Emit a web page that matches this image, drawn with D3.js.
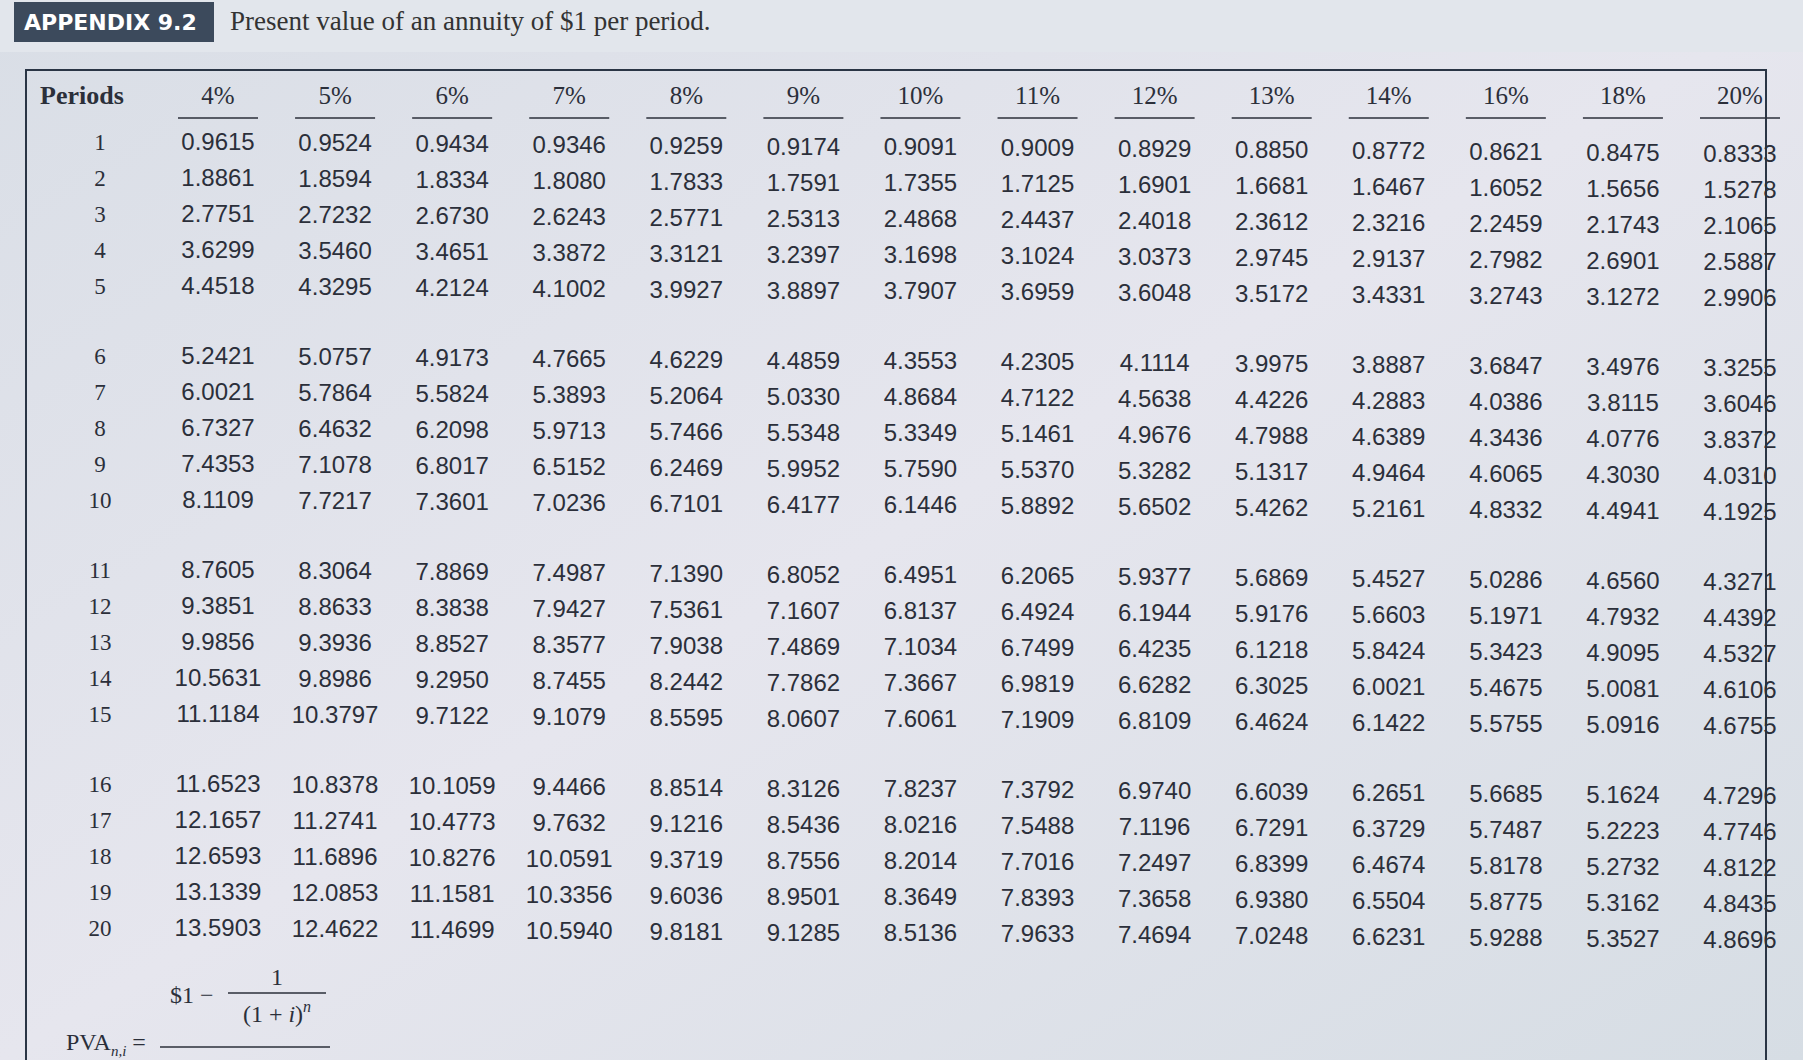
<!DOCTYPE html>
<html><head><meta charset="utf-8">
<script src="https://cdn.jsdelivr.net/npm/d3@7/dist/d3.min.js"></script>
<style>body{margin:0;background:#dfe4ea;}</style></head>
<body><svg id="c" width="1803" height="1060"></svg>
<script>
const rates=["4%","5%","6%","7%","8%","9%","10%","11%","12%","13%","14%","16%","18%","20%"];
const periods=d3.range(1,21);
const r4=[0.9615,1.8861,2.7751,3.6299,4.4518,5.2421,6.0021,6.7327,7.4353,8.1109,8.7605,9.3851,9.9856,10.5631,11.1184,11.6523,12.1657,12.6593,13.1339,13.5903];
const r5=[0.9524,1.8594,2.7232,3.5460,4.3295,5.0757,5.7864,6.4632,7.1078,7.7217,8.3064,8.8633,9.3936,9.8986,10.3797,10.8378,11.2741,11.6896,12.0853,12.4622];
const r6=[0.9434,1.8334,2.6730,3.4651,4.2124,4.9173,5.5824,6.2098,6.8017,7.3601,7.8869,8.3838,8.8527,9.2950,9.7122,10.1059,10.4773,10.8276,11.1581,11.4699];
const r7=[0.9346,1.8080,2.6243,3.3872,4.1002,4.7665,5.3893,5.9713,6.5152,7.0236,7.4987,7.9427,8.3577,8.7455,9.1079,9.4466,9.7632,10.0591,10.3356,10.5940];
const r8=[0.9259,1.7833,2.5771,3.3121,3.9927,4.6229,5.2064,5.7466,6.2469,6.7101,7.1390,7.5361,7.9038,8.2442,8.5595,8.8514,9.1216,9.3719,9.6036,9.8181];
const r9=[0.9174,1.7591,2.5313,3.2397,3.8897,4.4859,5.0330,5.5348,5.9952,6.4177,6.8052,7.1607,7.4869,7.7862,8.0607,8.3126,8.5436,8.7556,8.9501,9.1285];
const r10=[0.9091,1.7355,2.4868,3.1698,3.7907,4.3553,4.8684,5.3349,5.7590,6.1446,6.4951,6.8137,7.1034,7.3667,7.6061,7.8237,8.0216,8.2014,8.3649,8.5136];
const r11=[0.9009,1.7125,2.4437,3.1024,3.6959,4.2305,4.7122,5.1461,5.5370,5.8892,6.2065,6.4924,6.7499,6.9819,7.1909,7.3792,7.5488,7.7016,7.8393,7.9633];
const r12=[0.8929,1.6901,2.4018,3.0373,3.6048,4.1114,4.5638,4.9676,5.3282,5.6502,5.9377,6.1944,6.4235,6.6282,6.8109,6.9740,7.1196,7.2497,7.3658,7.4694];
const r13=[0.8850,1.6681,2.3612,2.9745,3.5172,3.9975,4.4226,4.7988,5.1317,5.4262,5.6869,5.9176,6.1218,6.3025,6.4624,6.6039,6.7291,6.8399,6.9380,7.0248];
const r14=[0.8772,1.6467,2.3216,2.9137,3.4331,3.8887,4.2883,4.6389,4.9464,5.2161,5.4527,5.6603,5.8424,6.0021,6.1422,6.2651,6.3729,6.4674,6.5504,6.6231];
const r16=[0.8621,1.6052,2.2459,2.7982,3.2743,3.6847,4.0386,4.3436,4.6065,4.8332,5.0286,5.1971,5.3423,5.4675,5.5755,5.6685,5.7487,5.8178,5.8775,5.9288];
const r18=[0.8475,1.5656,2.1743,2.6901,3.1272,3.4976,3.8115,4.0776,4.3030,4.4941,4.6560,4.7932,4.9095,5.0081,5.0916,5.1624,5.2223,5.2732,5.3162,5.3527];
const r20=[0.8333,1.5278,2.1065,2.5887,2.9906,3.3255,3.6046,3.8372,4.0310,4.1925,4.3271,4.4392,4.5327,4.6106,4.6755,4.7296,4.7746,4.8122,4.8435,4.8696];
const series=[r4,r5,r6,r7,r8,r9,r10,r11,r12,r13,r14,r16,r18,r20];

const svg=d3.select("#c");
const defs=svg.append("defs");
const g=defs.append("linearGradient").attr("id","bg").attr("x1",0).attr("y1",0).attr("x2",1).attr("y2",1);
g.append("stop").attr("offset","0").attr("stop-color","#d9dee6");
g.append("stop").attr("offset","0.5").attr("stop-color","#e6e6ee");
g.append("stop").attr("offset","1").attr("stop-color","#d6dde4");
svg.append("rect").attr("width",1803).attr("height",1060).attr("fill","url(#bg)");
svg.append("rect").attr("x",0).attr("y",0).attr("width",1803).attr("height",52).attr("fill","#e2e6ec");
svg.append("rect").attr("x",14).attr("y",2).attr("width",200).attr("height",40).attr("fill","#3c4a5c");
svg.append("text").attr("x",24).attr("y",30).text("APPENDIX 9.2").attr("fill","#fff")
 .style("font","bold 22px 'DejaVu Sans'");
svg.append("text").attr("x",230).attr("y",30).text("Present value of an annuity of $1 per period.")
 .attr("fill","#333").style("font","27px 'Liberation Serif'");
svg.append("rect").attr("x",26).attr("y",70).attr("width",1740).attr("height",1000)
 .attr("fill","none").attr("stroke","#2a3545").attr("stroke-width",2);

const x=d3.scalePoint().domain(rates).range([218,1740]);
const rowY=p=>{const grp=Math.floor((p-1)/5);return 150+(p-1)*36+grp*34;};
const ink="#2b2f3a";
svg.append("text").attr("x",82).attr("y",104).attr("text-anchor","middle").text("Periods")
 .attr("fill",ink).style("font","bold 26px 'Liberation Serif'");
rates.forEach(r=>{
  svg.append("text").attr("x",x(r)).attr("y",104).attr("text-anchor","middle").text(r)
   .attr("fill",ink).style("font","25px 'Liberation Serif'");
  svg.append("line").attr("x1",x(r)-40).attr("x2",x(r)+40).attr("y1",118).attr("y2",118)
   .attr("stroke",ink).attr("stroke-width",1.5);
});
periods.forEach(p=>{
  svg.append("text").attr("x",100).attr("y",rowY(p)).attr("text-anchor","middle").text(p)
   .attr("fill",ink).style("font","23px 'Liberation Serif'");
});
series.forEach((s,i)=>{
  svg.selectAll(null).data(s).enter().append("text")
   .attr("x",x(rates[i])).attr("y",(d,j)=>rowY(periods[j])+i*0.9)
   .attr("text-anchor","middle").text(d=>d.toFixed(4))
   .attr("fill",ink).style("font","24px 'Liberation Sans'");
});
const f=svg.append("g").attr("fill",ink).style("font","24px 'Liberation Serif'");
f.append("text").attr("x",170).attr("y",1003).text("$1 −");
f.append("text").attr("x",277).attr("y",985).attr("text-anchor","middle").text("1");
f.append("line").attr("x1",228).attr("x2",326).attr("y1",993).attr("y2",993).attr("stroke",ink).attr("stroke-width",1.5);
const den=f.append("text").attr("x",277).attr("y",1022).attr("text-anchor","middle");
den.append("tspan").text("(1 + ");
den.append("tspan").style("font-style","italic").text("i");
den.append("tspan").text(")");
den.append("tspan").attr("dy",-10).style("font-style","italic").style("font-size","16px").text("n");
const pva=f.append("text").attr("x",66).attr("y",1050);
pva.append("tspan").text("PVA");
pva.append("tspan").attr("dy",6).style("font-style","italic").style("font-size","15px").text("n,i");
pva.append("tspan").attr("dy",-6).text(" =");
f.append("line").attr("x1",160).attr("x2",330).attr("y1",1047).attr("y2",1047).attr("stroke",ink).attr("stroke-width",1.5);
</script></body></html>
